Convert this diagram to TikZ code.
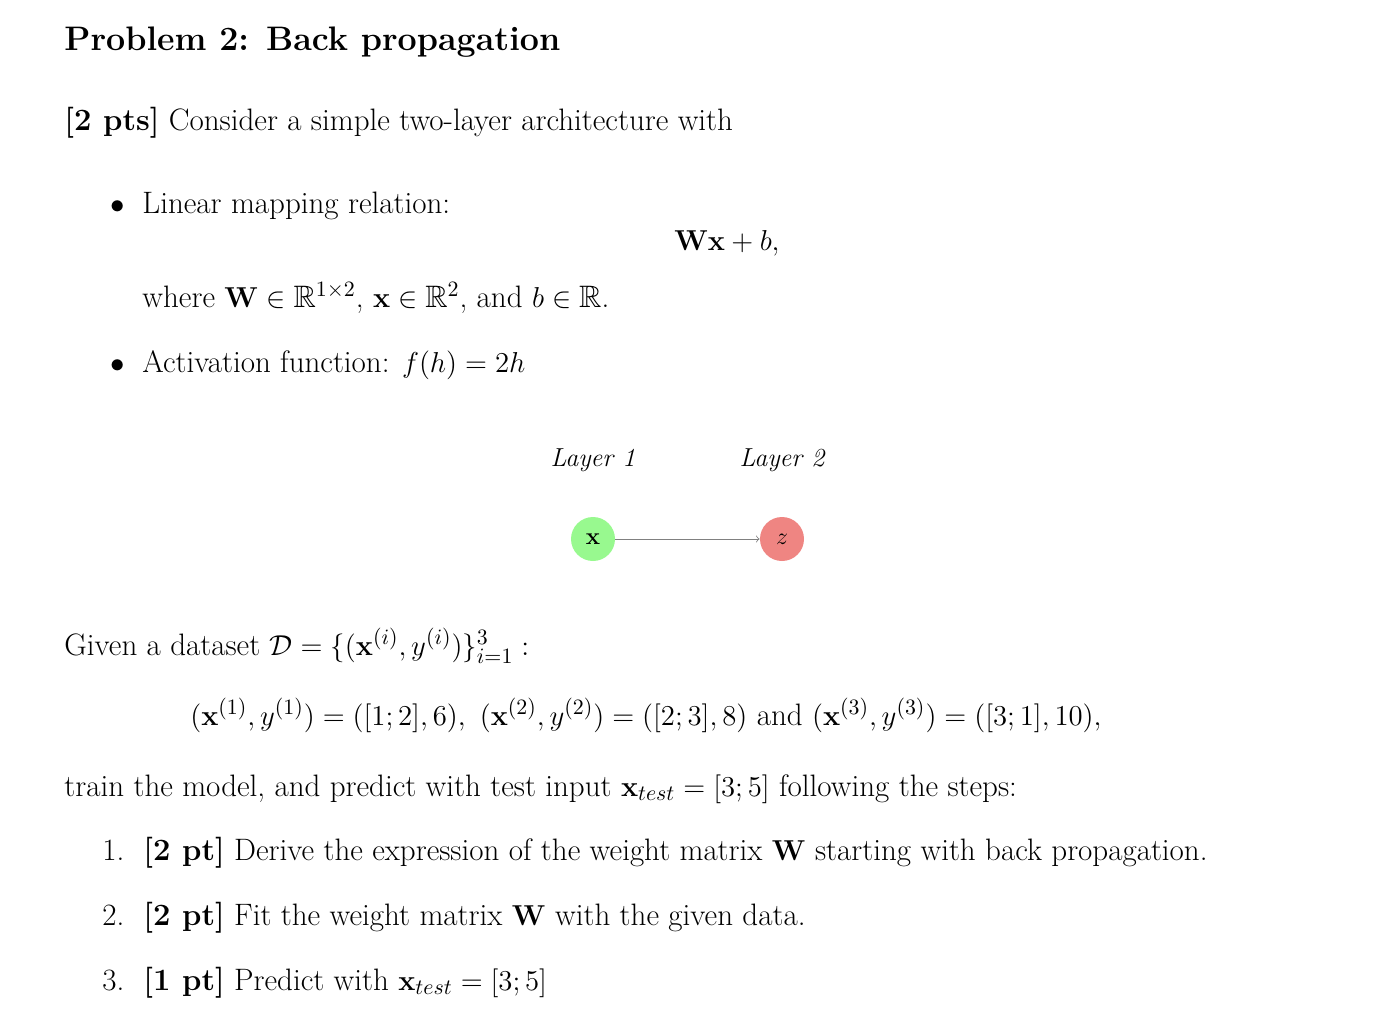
\documentclass[tikz,border=0pt]{standalone}
\usepackage{amsmath,amssymb}
\definecolor{ngreen}{HTML}{98F98F}
\definecolor{nred}{HTML}{EF8582}
\begin{document}
\begin{tikzpicture}[x=0.5pt,y=-0.5pt,
  txt/.style={anchor=base west,inner sep=0pt,font=\fontsize{15.5}{18}\selectfont},
  neur/.style={circle,minimum size=22pt,inner sep=0pt,font=\fontsize{13}{15}\selectfont}]
\useasboundingbox (0,0) rectangle (1374,1012);
\node[anchor=base west,inner sep=0pt,font=\fontsize{17}{20}\selectfont\bfseries] (title) at (64,50) {Problem 2: Back propagation};
\node[txt] (intro) at (64,130) {\textbf{[2 pts]} Consider a simple two-layer architecture with};
\node[txt] (b1) at (110,213) {$\bullet$};
\node[txt] (t1) at (142,213) {Linear mapping relation:};
\node[txt,anchor=base] (eq) at (727,250) {$\mathbf{W}\mathbf{x}+b,$};
\node[txt] (where) at (142,307) {where $\mathbf{W}\in\mathbb{R}^{1\times2}$, $\mathbf{x}\in\mathbb{R}^2$, and $b\in\mathbb{R}$.};
\node[txt] (b2) at (110,372) {$\bullet$};
\node[txt] (t2) at (142,372) {Activation function: $f(h)=2h$};
\node[txt,anchor=base,font=\fontsize{13}{15}\selectfont\itshape] (l1) at (593,466) {Layer 1};
\node[txt,anchor=base,font=\fontsize{13}{15}\selectfont\itshape] (l2) at (782,466) {Layer 2};
\node[neur,fill=ngreen] (x) at (593,539) {$\mathbf{x}$};
\node[neur,fill=nred] (z) at (782,539) {$z$};
\draw[->,gray,thin] (x) -- (z);
\node[txt] (given) at (64,655) {Given a dataset $\mathcal{D}=\{(\mathbf{x}^{(i)},y^{(i)})\}_{i=1}^{3}:$};
\node[txt] (data) at (190,725) {$(\mathbf{x}^{(1)},y^{(1)})=([1;2],6),\ (\mathbf{x}^{(2)},y^{(2)})=([2;3],8)$ and $(\mathbf{x}^{(3)},y^{(3)})=([3;1],10),$};
\node[txt] (train) at (64,796) {train the model, and predict with test input $\mathbf{x}_{test}=[3;5]$ following the steps:};
\node[txt] (n1) at (102,860) {1.};
\node[txt] (i1) at (143,860) {\textbf{[2 pt]} Derive the expression of the weight matrix $\mathbf{W}$ starting with back propagation.};
\node[txt] (n2) at (102,925) {2.};
\node[txt] (i2) at (143,925) {\textbf{[2 pt]} Fit the weight matrix $\mathbf{W}$ with the given data.};
\node[txt] (n3) at (102,990) {3.};
\node[txt] (i3) at (143,990) {\textbf{[1 pt]} Predict with $\mathbf{x}_{test}=[3;5]$};
\end{tikzpicture}
\end{document}
